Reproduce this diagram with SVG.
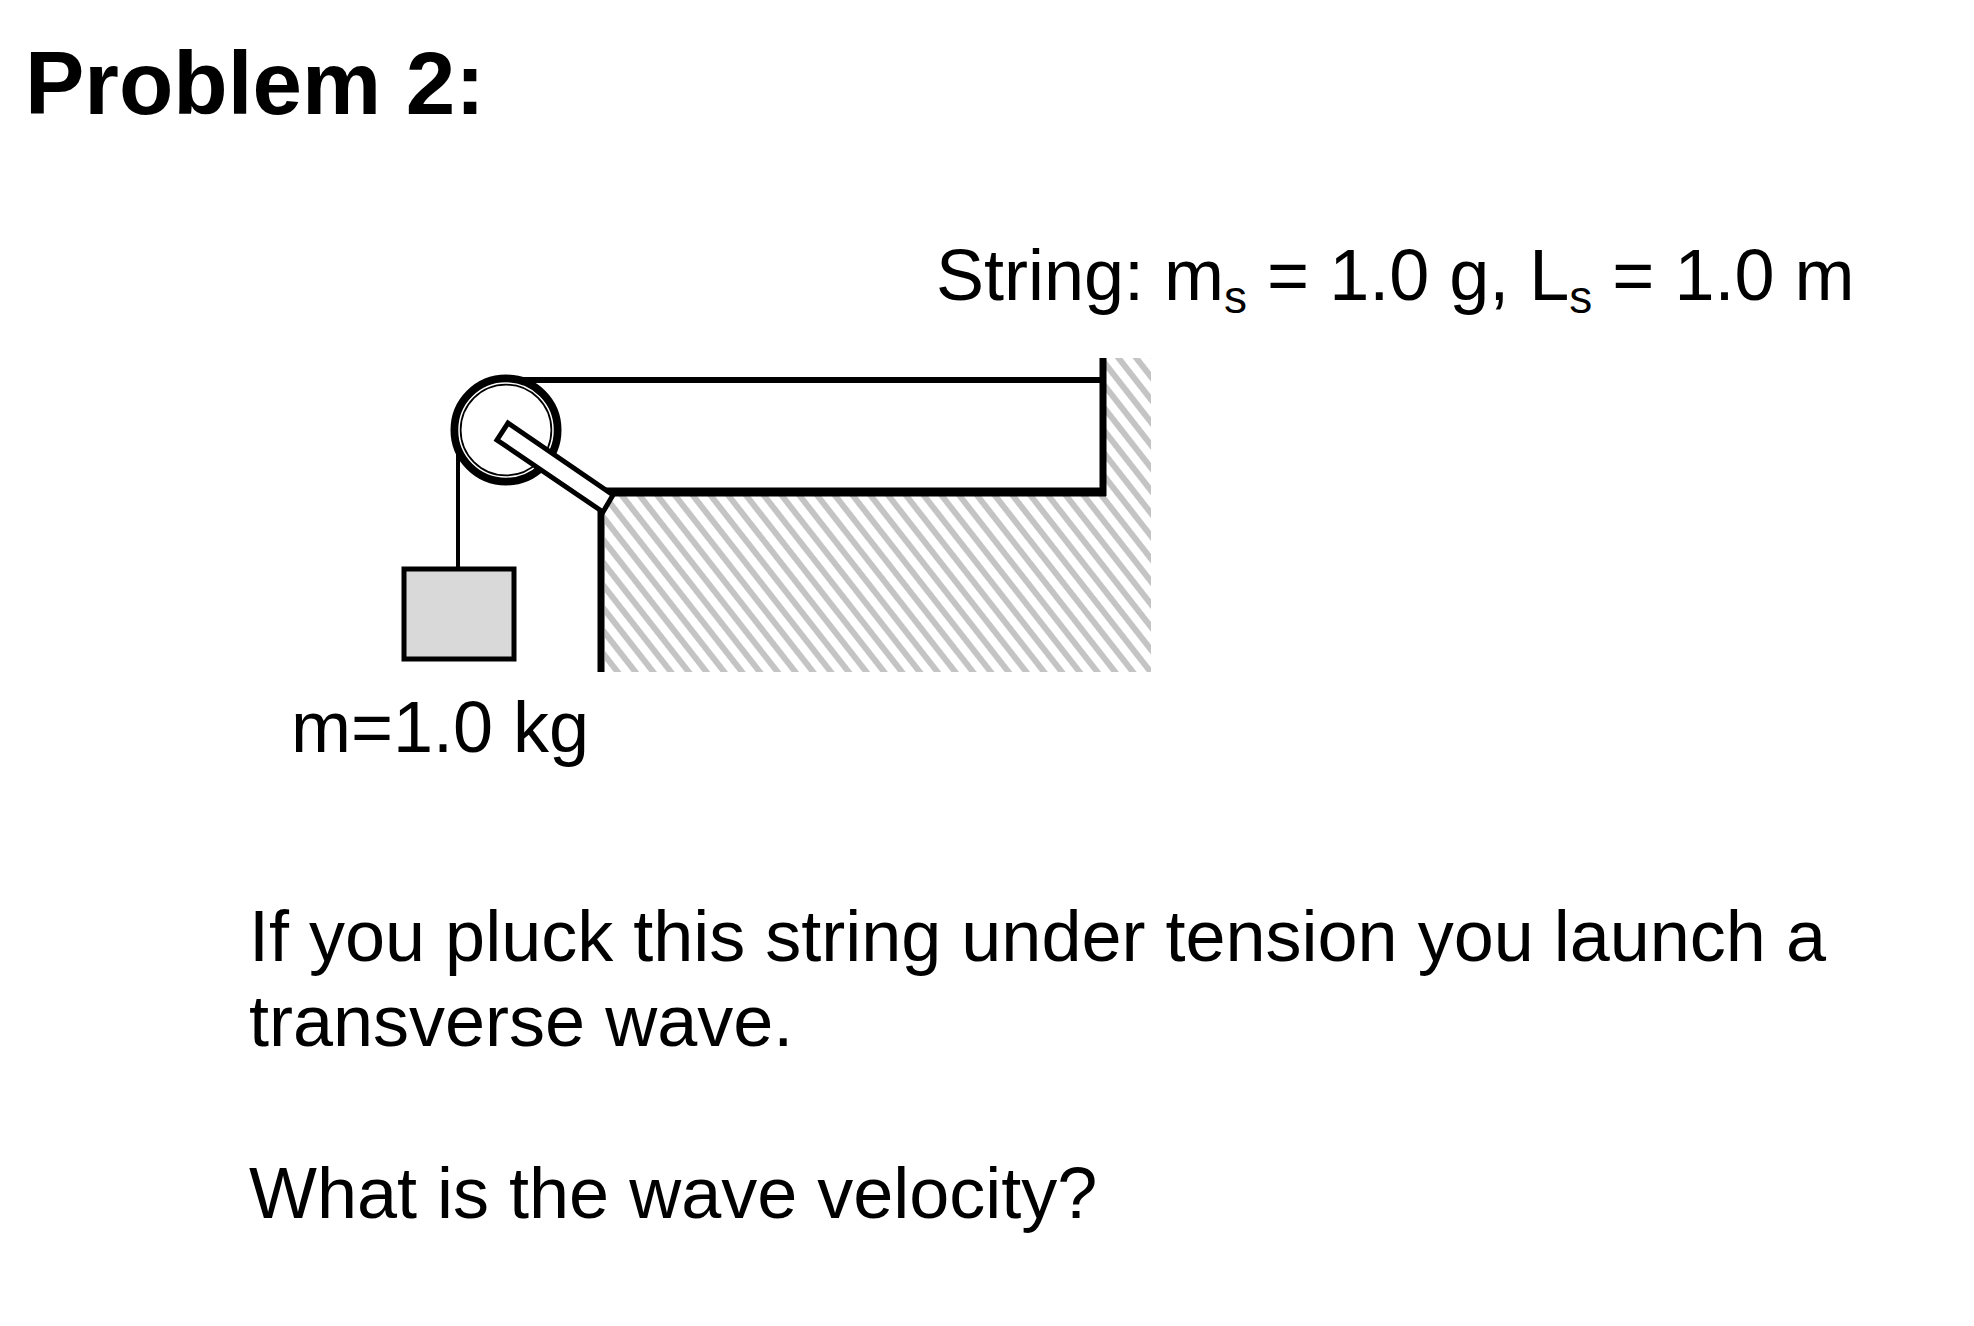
<svg xmlns="http://www.w3.org/2000/svg" width="1974" height="1326" viewBox="0 0 1974 1326">
<style>
text{font-family:"Liberation Sans",Arial,sans-serif;fill:#000}
.k{stroke:#000;fill:none}
</style>
<defs>
<pattern id="h" width="14" height="14" patternUnits="userSpaceOnUse" patternTransform="rotate(-38)">
<rect x="0" y="0" width="6" height="14" fill="#c4c4c4"/>
</pattern>
</defs>
<rect width="1974" height="1326" fill="#fff"/>
<text x="25" y="114" font-size="89" font-weight="bold">Problem 2:</text>
<text x="936" y="300" font-size="72">String: m<tspan font-size="46" dy="13">s</tspan><tspan dy="-13"> = 1.0 g, L</tspan><tspan font-size="46" dy="13">s</tspan><tspan dy="-13"> = 1.0 m</tspan></text>
<g id="support">
<rect x="605" y="493" width="546" height="179" fill="url(#h)"/>
<rect x="1105" y="358" width="46" height="135" fill="url(#h)"/>
<line class="k" x1="1103" y1="358" x2="1103" y2="496" stroke-width="7"/>
<line class="k" x1="604" y1="492" x2="1106" y2="492" stroke-width="9"/>
<line class="k" x1="601" y1="502" x2="601" y2="672" stroke-width="7"/>
</g>
<g id="string">
<line class="k" x1="506" y1="380" x2="1103" y2="380" stroke-width="6"/>
<line class="k" x1="458" y1="430" x2="458" y2="570" stroke-width="4"/>
</g>
<g id="pulley">
<circle cx="506" cy="430" r="50" fill="#fff" stroke="#000" stroke-width="11"/>
<circle cx="506" cy="430" r="47" fill="none" stroke="#fff" stroke-width="1.5"/>
<polygon points="508,423 613,495 603,512 497,440" fill="#fff" stroke="#000" stroke-width="5"/>
</g>
<g id="mass">
<rect x="404" y="569" width="110" height="90" fill="#d9d9d9" stroke="#000" stroke-width="5"/>
<text x="291" y="752" font-size="72">m=1.0 kg</text>
</g>
<text x="249" y="961" font-size="72">If you pluck this string under tension you launch a</text>
<text x="249" y="1046" font-size="72">transverse wave.</text>
<text x="249" y="1218" font-size="72">What is the wave velocity?</text>
</svg>
